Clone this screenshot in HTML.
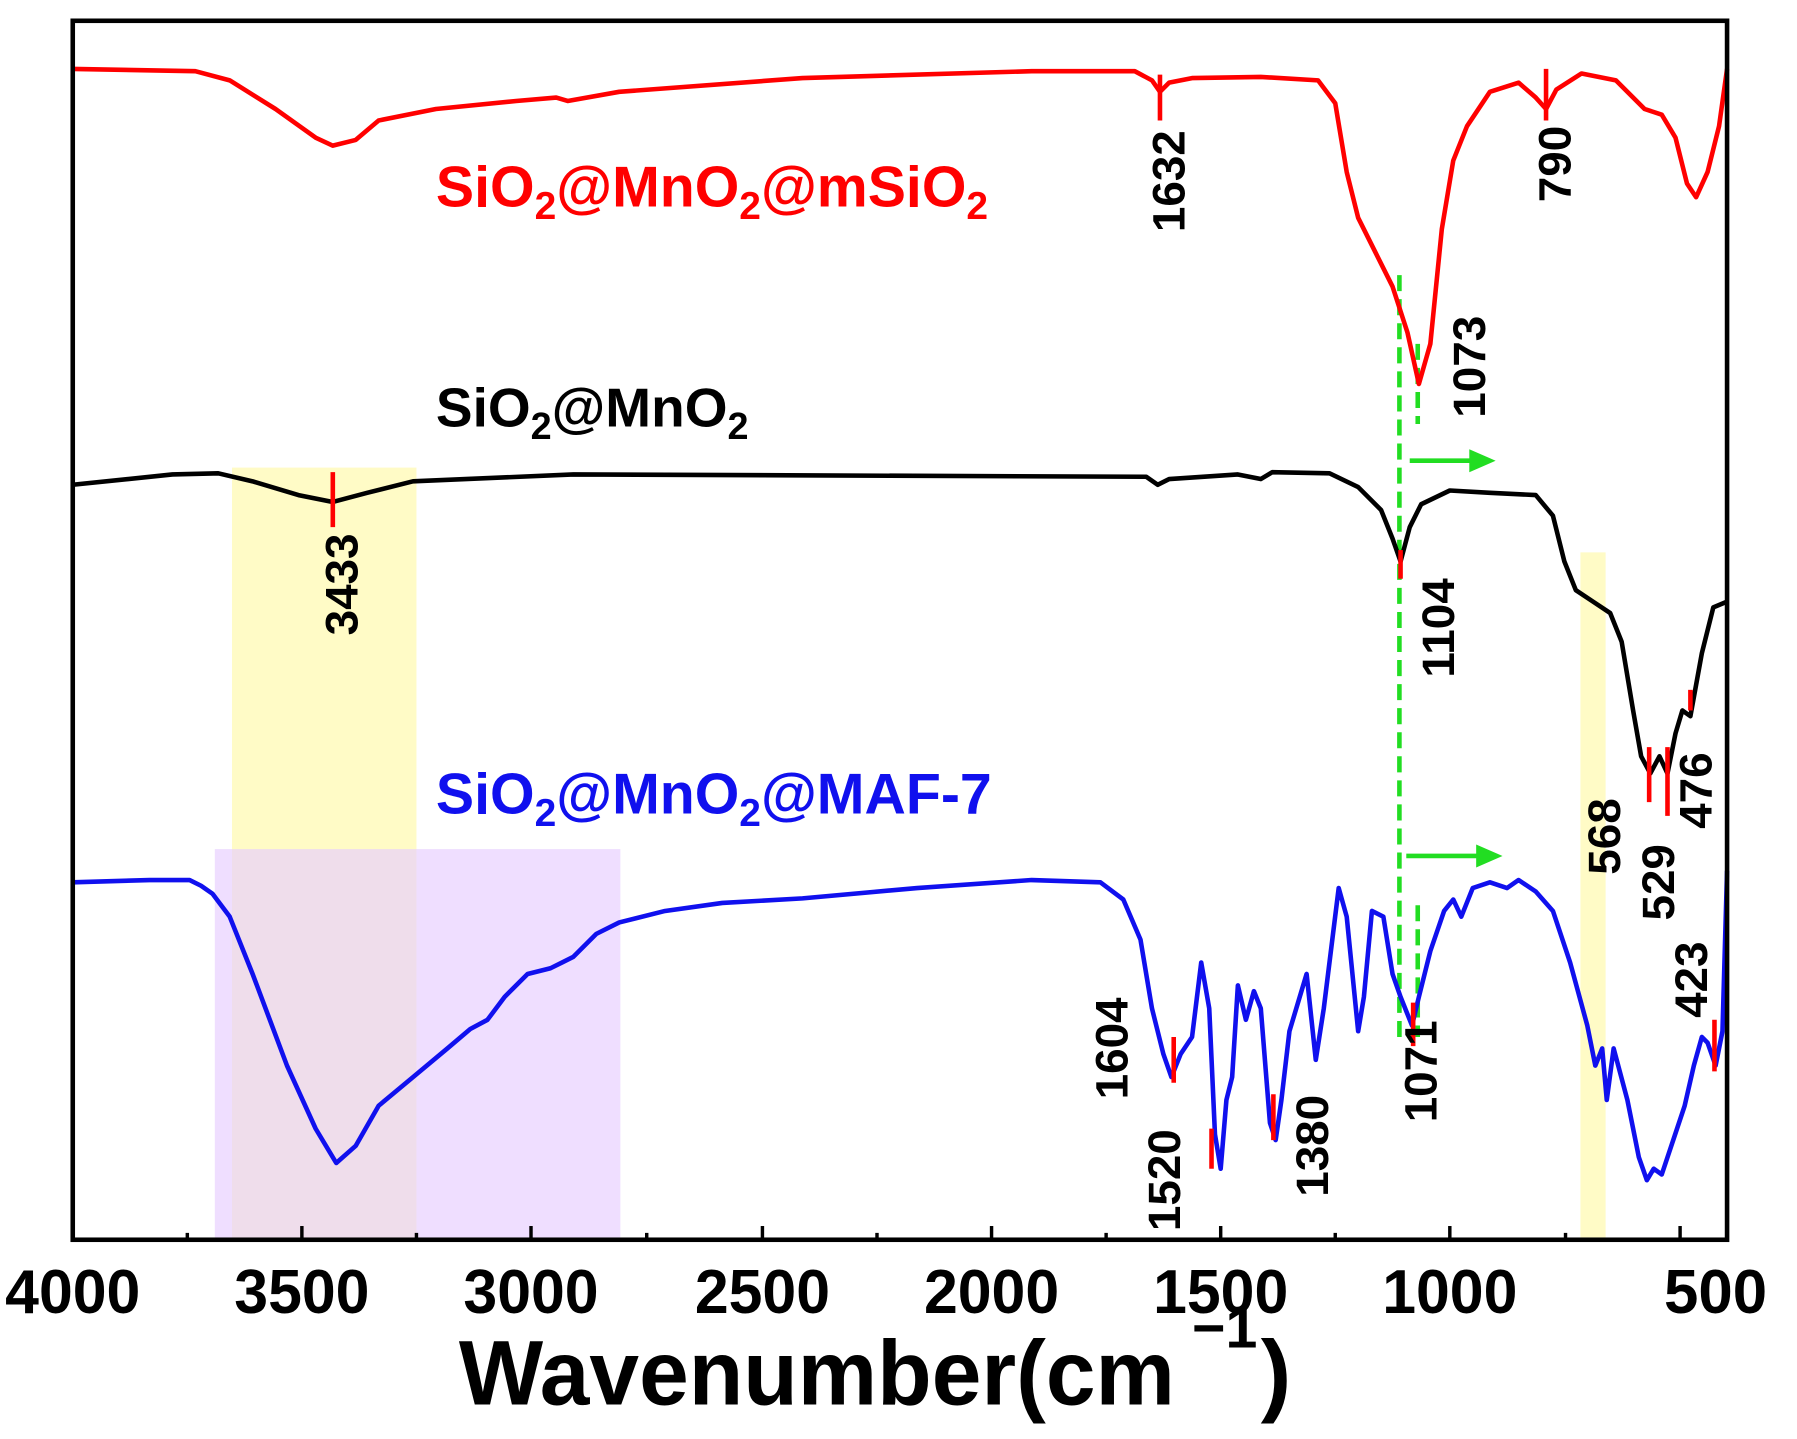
<!DOCTYPE html>
<html><head><meta charset="utf-8"><style>
html,body{margin:0;padding:0;background:#fff;}
svg{display:block;}
text{font-family:"Liberation Sans",Arial,sans-serif;}
</style></head><body>
<svg width="1797" height="1439" viewBox="0 0 1556 1246" preserveAspectRatio="none" xmlns="http://www.w3.org/2000/svg">
<rect width="1556" height="1246" fill="#fff"/>
<g transform="translate(0.5,0.14) scale(0.992)">
<rect x="202" y="408" width="161" height="672" fill="#fffbc6"/>
<rect x="187" y="741" width="354" height="339" fill="#e6ccff" opacity="0.65"/>
<rect x="1379" y="482" width="22" height="598" fill="#fffbc6"/>
<g stroke="#22dd22" stroke-width="4" stroke-dasharray="14,7" fill="none">
<line x1="1221" y1="240" x2="1221" y2="905"/>
<line x1="1237" y1="300" x2="1237" y2="370"/>
<line x1="1237" y1="790" x2="1237" y2="905"/>
</g>
<g stroke="#22dd22" stroke-width="4" fill="#22dd22">
<line x1="1230" y1="402" x2="1288" y2="402"/><polygon points="1300,402 1284,395 1284,409"/>
<line x1="1227" y1="747" x2="1293" y2="747"/><polygon points="1306,747 1290,740 1290,754"/>
</g>
<g fill="none" stroke-width="4" stroke-linejoin="round">
<polyline stroke="#ff0000" points="63,60 170,62 200,70 240,95 275,120 290,127 310,122 330,105 380,95 450,88 485,85 495,88 540,80 700,68 900,62 990,62 1005,70 1012,80 1020,72 1040,68 1100,67 1150,70 1165,90 1175,150 1185,190 1200,220 1215,250 1228,290 1238,335 1248,300 1258,200 1268,140 1280,110 1300,80 1325,72 1340,85 1349,95 1358,78 1380,64 1410,70 1435,95 1450,100 1462,120 1472,160 1480,172 1490,150 1500,110 1507,60"/>
<polyline stroke="#000" points="63,423 150,414 190,413 220,420 260,432 290,438 320,430 360,420 500,414 1000,416 1010,423 1020,418 1080,414 1100,418 1110,412 1160,413 1185,425 1205,445 1215,470 1222,490 1230,460 1240,440 1265,428 1300,430 1340,432 1355,450 1365,490 1375,515 1390,525 1405,535 1415,560 1425,620 1432,660 1440,675 1448,660 1455,675 1462,640 1468,620 1475,625 1485,570 1495,530 1507,525"/>
<polyline stroke="#1010ee" points="63,770 130,768 165,768 175,773 185,780 200,800 220,850 250,930 275,985 293,1015 310,1000 330,965 360,940 390,915 410,898 425,890 440,870 460,850 480,845 490,840 500,835 520,815 540,805 580,795 630,788 700,784 800,775 900,768 960,770 980,785 995,820 1005,880 1015,920 1022,940 1030,920 1040,905 1048,840 1055,880 1060,990 1065,1020 1070,960 1075,940 1080,860 1087,890 1094,865 1100,880 1108,980 1113,995 1118,960 1125,900 1140,850 1148,925 1155,880 1168,775 1175,800 1185,900 1190,870 1197,795 1207,800 1215,850 1222,870 1232,895 1238,870 1248,830 1260,795 1268,785 1275,800 1285,775 1300,770 1315,775 1325,768 1340,778 1355,795 1370,840 1385,895 1392,930 1398,915 1402,960 1408,915 1420,960 1430,1010 1437,1030 1443,1020 1450,1025 1460,995 1470,965 1478,930 1485,905 1490,910 1497,930 1503,900 1507,760"/>
</g>
<g stroke="#ff0000" stroke-width="4">
<line x1="1012" y1="65" x2="1012" y2="105"/>
<line x1="1349" y1="60" x2="1349" y2="105"/>
<line x1="290" y1="412" x2="290" y2="460"/>
<line x1="1222" y1="480" x2="1222" y2="505"/>
<line x1="1439" y1="652" x2="1439" y2="700"/>
<line x1="1455" y1="652" x2="1455" y2="712"/>
<line x1="1475" y1="602" x2="1475" y2="620"/>
<line x1="1024" y1="905" x2="1024" y2="945"/>
<line x1="1057" y1="985" x2="1057" y2="1020"/>
<line x1="1111" y1="955" x2="1111" y2="995"/>
<line x1="1233" y1="875" x2="1233" y2="913"/>
<line x1="1496" y1="890" x2="1496" y2="935"/>
</g>
<rect x="63" y="18" width="1444" height="1064" fill="none" stroke="#000" stroke-width="4"/>
<g stroke="#000" stroke-width="3">
<line x1="263" y1="1082" x2="263" y2="1070"/><line x1="463" y1="1082" x2="463" y2="1070"/>
<line x1="665" y1="1082" x2="665" y2="1070"/><line x1="865" y1="1082" x2="865" y2="1070"/>
<line x1="1065" y1="1082" x2="1065" y2="1070"/><line x1="1265" y1="1082" x2="1265" y2="1070"/>
<line x1="1466" y1="1082" x2="1466" y2="1070"/>
<line x1="163" y1="1082" x2="163" y2="1076"/><line x1="363" y1="1082" x2="363" y2="1076"/>
<line x1="564" y1="1082" x2="564" y2="1076"/><line x1="765" y1="1082" x2="765" y2="1076"/>
<line x1="965" y1="1082" x2="965" y2="1076"/><line x1="1165" y1="1082" x2="1165" y2="1076"/>
<line x1="1366" y1="1082" x2="1366" y2="1076"/>
</g>
<g font-size="54" font-weight="bold" text-anchor="middle" fill="#000">
<text x="63" y="1146" textLength="118" lengthAdjust="spacingAndGlyphs">4000</text>
<text x="263" y="1146" textLength="118" lengthAdjust="spacingAndGlyphs">3500</text>
<text x="463" y="1146" textLength="118" lengthAdjust="spacingAndGlyphs">3000</text>
<text x="665" y="1146" textLength="118" lengthAdjust="spacingAndGlyphs">2500</text>
<text x="865" y="1146" textLength="118" lengthAdjust="spacingAndGlyphs">2000</text>
<text x="1065" y="1146" textLength="118" lengthAdjust="spacingAndGlyphs">1500</text>
<text x="1265" y="1146" textLength="118" lengthAdjust="spacingAndGlyphs">1000</text>
<text x="1497" y="1146" textLength="90" lengthAdjust="spacingAndGlyphs">500</text>
</g>
<text x="400" y="1226" font-size="80" font-weight="bold" textLength="625" lengthAdjust="spacingAndGlyphs">Wavenumber(cm</text>
<text x="1040" y="1176" font-size="50" font-weight="bold">−1</text>
<text x="1100" y="1226" font-size="80" font-weight="bold">)</text>
<text x="380" y="180" font-size="50" font-weight="bold" fill="#ff0000">SiO<tspan font-size="34" dy="11">2</tspan><tspan dy="-11">@MnO</tspan><tspan font-size="34" dy="11">2</tspan><tspan dy="-11">@mSiO</tspan><tspan font-size="34" dy="11">2</tspan></text>
<text x="380" y="372" font-size="48" font-weight="bold" fill="#000">SiO<tspan font-size="33" dy="11">2</tspan><tspan dy="-11">@MnO</tspan><tspan font-size="33" dy="11">2</tspan></text>
<text x="380" y="710" font-size="50" font-weight="bold" fill="#1010ee">SiO<tspan font-size="34" dy="11">2</tspan><tspan dy="-11">@MnO</tspan><tspan font-size="34" dy="11">2</tspan><tspan dy="-11">@MAF-7</tspan></text>
<g font-size="40" font-weight="bold" fill="#000" text-anchor="middle" dominant-baseline="central">
<text transform="translate(1020,158) rotate(-90)">1632</text>
<text transform="translate(1357,143) rotate(-90)">790</text>
<text transform="translate(1282,320) rotate(-90)">1073</text>
<text transform="translate(298,510) rotate(-90)">3433</text>
<text transform="translate(1255,548) rotate(-90)">1104</text>
<text transform="translate(1400,730) rotate(-90)">568</text>
<text transform="translate(1447,770) rotate(-90)">529</text>
<text transform="translate(1480,690) rotate(-90)">476</text>
<text transform="translate(1476,855) rotate(-90)">423</text>
<text transform="translate(970,915) rotate(-90)">1604</text>
<text transform="translate(1016,1030) rotate(-90)">1520</text>
<text transform="translate(1145,1000) rotate(-90)">1380</text>
<text transform="translate(1240,935) rotate(-90)">1071</text>
</g>
</g>
</svg>
</body></html>
